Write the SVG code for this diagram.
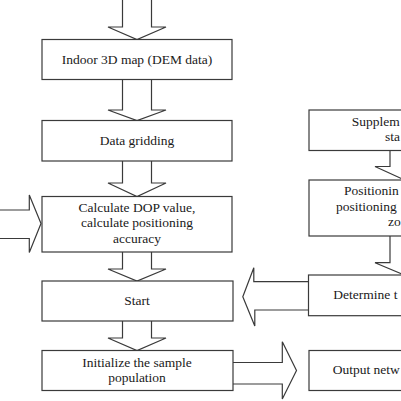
<svg xmlns="http://www.w3.org/2000/svg" width="401" height="401" viewBox="0 0 401 401" font-family="'Liberation Serif', 'Times New Roman', serif" font-size="13.5">
<style>
.box{fill:#fff;stroke:#3a3a3a;stroke-width:1.2}
.arr{fill:#fff;stroke:#3a3a3a;stroke-width:1.2;stroke-linejoin:miter}
.t{fill:#1a1a1a}
.c{text-anchor:middle}
</style>
<rect width="401" height="401" fill="#fff"/>
<g id="connectors">
<path class="arr" d="M122.5,-2 V27 H108 L137,39.5 L166,27 H151.5 V-2"/>
<path class="arr" d="M122.5,79.5 V110 H108 L137,120.5 L166,110 H151.5 V79.5"/>
<path class="arr" d="M122.5,161 V183 H108 L137,196.5 L166,183 H151.5 V161"/>
<path class="arr" d="M122.5,252 V269 H108 L137,281 L166,269 H151.5 V252"/>
<path class="arr" d="M122.5,321 V338 H108 L137,350.5 L166,338 H151.5 V321"/>
<path class="arr" d="M-2,210 H29.3 V195 L41,223.5 L29.3,252.5 V238.5 H-2"/>
<path class="arr" d="M309,281.7 H253.8 V267.7 L242.8,296.7 L254.8,326 V310 H309"/>
<path class="arr" d="M233,362.5 H282.3 V341.7 L296.5,370.5 L282.3,399 V384 H233"/>
<path class="arr" d="M390,150.5 V166.5 H375 L404.5,180 L434,166.5 H419 V150.5"/>
<path class="arr" d="M390,236 V262.7 H375 L404.5,275 L434,262.7 H419 V236"/>
</g>
<g id="indoor-map">
<rect class="box" x="42" y="39.5" width="190" height="40"/>
<text class="t c" x="137" y="64">Indoor 3D map (DEM data)</text>
</g>
<g id="data-gridding">
<rect class="box" x="42" y="120.5" width="190" height="40.5"/>
<text class="t c" x="137" y="144.5">Data gridding</text>
</g>
<g id="calculate-dop">
<rect class="box" x="42" y="196.5" width="190" height="55.5"/>
<text class="t c" x="137" y="211.7">Calculate DOP value,</text>
<text class="t c" x="137" y="227.3">calculate positioning</text>
<text class="t c" x="137" y="242.7">accuracy</text>
</g>
<g id="start">
<rect class="box" x="42" y="281" width="191" height="40"/>
<text class="t c" x="137" y="304.5">Start</text>
</g>
<g id="initialize">
<rect class="box" x="42" y="350.5" width="191" height="40"/>
<text class="t c" x="137" y="366.7">Initialize the sample</text>
<text class="t c" x="137" y="382">population</text>
</g>
<g id="supplement">
<rect class="box" x="309" y="110" width="190" height="40.5"/>
<text class="t" x="351.7" y="126">Supplem</text>
<text class="t" x="385" y="141">sta</text>
</g>
<g id="positioning">
<rect class="box" x="309" y="180" width="190" height="56"/>
<text class="t" x="344" y="195">Positionin</text>
<text class="t" x="336" y="210.5">positioning</text>
<text class="t" x="388" y="226">zo</text>
</g>
<g id="determine">
<rect class="box" x="308.5" y="275" width="190" height="40.7"/>
<text class="t" x="333.3" y="298.5">Determine t</text>
</g>
<g id="output">
<rect class="box" x="309" y="350.5" width="190" height="40"/>
<text class="t" x="332.7" y="373.5">Output netw</text>
</g>
</svg>
